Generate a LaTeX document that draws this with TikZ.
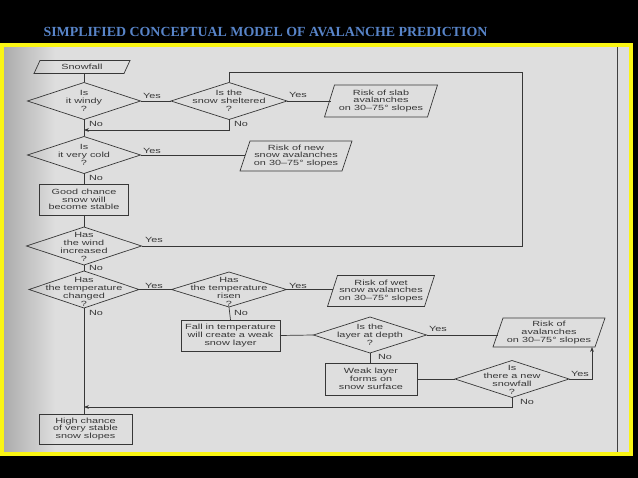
\documentclass[tikz,border=0pt]{standalone}
\usepackage{fontspec}
\setmainfont{Liberation Serif}
\newfontfamily\flowfont[FakeStretch=1.45]{Liberation Sans}
\usetikzlibrary{shapes.geometric,arrows.meta}
\definecolor{pagebg}{RGB}{222,222,222}
\definecolor{ink}{RGB}{55,55,55}
\definecolor{titleblue}{RGB}{88,132,200}
\definecolor{frameyellow}{RGB}{250,245,20}
\newcommand\drawpara[2]{\draw[conn] ([xshift=-#2pt]#1.south west) -- ([xshift=#2pt]#1.north west) -- ([xshift=#2pt]#1.north east) -- ([xshift=-#2pt]#1.south east) -- cycle;}
\begin{document}
\begin{tikzpicture}[x=1pt,y=-1pt,
  flow/.style={font=\flowfont\fontsize{7.5}{7.8}\selectfont, text=ink},
  txt/.style={flow, align=center, inner sep=0pt},
  lab/.style={flow, inner sep=0pt},
  dia/.style={draw=ink, line width=0.7pt, shape=diamond, inner sep=0pt, outer sep=0pt},
  box/.style={draw=ink, line width=0.7pt, rectangle, inner sep=0pt, outer sep=0pt, flow, align=center},
  para/.style={rectangle, inner sep=0pt, outer sep=0pt, flow, align=center},
  conn/.style={draw=ink, line width=0.7pt},
  arr/.style={conn, -{Stealth[length=5pt,width=3.8pt]}}]
% background
\fill[black] (0,0) rectangle (638,478);
\useasboundingbox (0,0) rectangle (638,478);
\fill[pagebg] (4,47) rectangle (629,452);
\shade[left color=gray!65, right color=pagebg] (4,47) rectangle (55,452);
\draw[gray!50!black, line width=0.8pt] (617,47) -- (617,452);
\draw[frameyellow, line width=4pt] (2,45) rectangle (631,454);
\node[font=\bfseries\fontsize{13.9}{15}\selectfont, text=titleblue] (title) at (265.5,32)
  {SIMPLIFIED CONCEPTUAL MODEL OF AVALANCHE PREDICTION};

% nodes
\node[para, minimum width=90pt, minimum height=13pt] (snow) at (82,67) {Snowfall};
\drawpara{snow}{3}
\node[dia, minimum width=113pt, minimum height=37pt, label={[txt]center:{Is\\it windy\\?}}] (windy) at (84,101) {};
\node[dia, minimum width=116pt, minimum height=37pt, label={[txt]center:{Is the\\snow sheltered\\?}}] (shelt) at (229,101) {};
\node[para, minimum width=103pt, minimum height=32pt] (slab) at (381,101) {Risk of slab\\avalanches\\on 30–75° slopes};
\drawpara{slab}{5}
\node[dia, minimum width=113pt, minimum height=37pt, label={[txt]center:{Is\\it very cold\\?}}] (cold) at (84,155) {};
\node[para, minimum width=102pt, minimum height=30pt] (newsl) at (296,156) {Risk of new\\snow avalanches\\on 30–75° slopes};
\drawpara{newsl}{5}
\node[box, minimum width=89pt, minimum height=31pt] (good) at (84,199.5) {Good chance\\snow will\\become stable};
\node[dia, minimum width=115pt, minimum height=38pt, label={[txt,yshift=-1pt]center:{Has\\the wind\\increased\\?}}] (wind) at (84,246) {};
\node[dia, minimum width=110pt, minimum height=37pt, label={[txt,yshift=-2.5pt]center:{Has\\the temperature\\changed\\?}}] (chg) at (84,289.5) {};
\node[dia, minimum width=115pt, minimum height=35pt, label={[txt,yshift=-2.5pt]center:{Has\\the temperature\\risen\\?}}] (risen) at (229,289.5) {};
\node[para, minimum width=97pt, minimum height=31pt] (wet) at (381,291) {Risk of wet\\snow avalanches\\on 30–75° slopes};
\drawpara{wet}{5}
\node[box, minimum width=99pt, minimum height=31pt] (fall) at (230.5,335.5) {Fall in temperature\\will create a weak\\snow layer};
\node[dia, minimum width=113pt, minimum height=36pt, label={[txt]center:{Is the\\layer at depth\\?}}] (depth) at (370,335) {};
\node[para, minimum width=102pt, minimum height=29pt] (risk) at (549,332.5) {Risk of\\avalanches\\on 30–75° slopes};
\drawpara{risk}{5}
\node[box, minimum width=92pt, minimum height=32pt] (weak) at (371,379) {Weak layer\\forms on\\snow surface};
\node[dia, minimum width=114pt, minimum height=37pt, label={[txt,yshift=-1pt]center:{Is\\there a new\\snowfall\\?}}] (newsnow) at (512,379) {};
\node[box, minimum width=93pt, minimum height=30pt] (high) at (85.5,429) {High chance\\of very stable\\snow slopes};

% helper coordinates
\coordinate (topR) at (522,72);
\coordinate (nojoin) at (84,130);
\coordinate (loopY) at (84,407);
\coordinate (riskup) at (592,379);

% connectors
\draw[conn] (snow.south -| windy.north) -- (windy.north);
\draw[conn] (windy.east) -- (shelt.west);
\draw[conn] (shelt.east) -- ([xshift=1pt]slab.west);
\draw[conn] (windy.south) -- (cold.north);
\draw[arr] (shelt.south) |- (nojoin);
\draw[conn] (cold.east) -- ([xshift=-0.3pt]cold.east -| newsl.west);
\draw[conn] (cold.south) -- (good.north);
\draw[conn] (good.south) -- (wind.north);
\draw[conn] (wind.east) -- (wind.east -| topR) -- (topR) -- (topR -| shelt.north) -- (shelt.north);
\draw[conn] (wind.south) -- (chg.north);
\draw[conn] (chg.east) -- (risen.west);
\draw[conn] (risen.east) -- (risen.east -| wet.west);
\draw[conn] (risen.south) -- (fall.north);
\draw[conn] (chg.south) -- (high.north -| chg.south);
\draw[conn] (fall.east) -- (depth.west);
\draw[conn] (depth.east) -- ([xshift=-0.5pt]depth.east -| risk.west);
\draw[conn] (depth.south) -- (depth.south |- weak.north);
\draw[conn] (weak.east) -- (newsnow.west);
\draw[arr] (newsnow.east) -- (riskup) -- (riskup |- risk.south);
\draw[arr] (newsnow.south) |- (loopY);

% branch labels
\node[lab] (y1) at (152,96) {Yes};
\node[lab] (y2) at (298,95) {Yes};
\node[lab] (n1) at (96,124) {No};
\node[lab] (n2) at (241,124) {No};
\node[lab] (y3) at (152,151) {Yes};
\node[lab] (n3) at (96,178) {No};
\node[lab] (y4) at (154,240) {Yes};
\node[lab] (n4) at (96,268) {No};
\node[lab] (y5) at (154,286) {Yes};
\node[lab] (y6) at (298,286) {Yes};
\node[lab] (n5) at (96,313) {No};
\node[lab] (n6) at (241,313) {No};
\node[lab] (y7) at (438,329) {Yes};
\node[lab] (n7) at (385,357) {No};
\node[lab] (y8) at (580,374) {Yes};
\node[lab] (n8) at (527,402) {No};
\end{tikzpicture}
\end{document}
